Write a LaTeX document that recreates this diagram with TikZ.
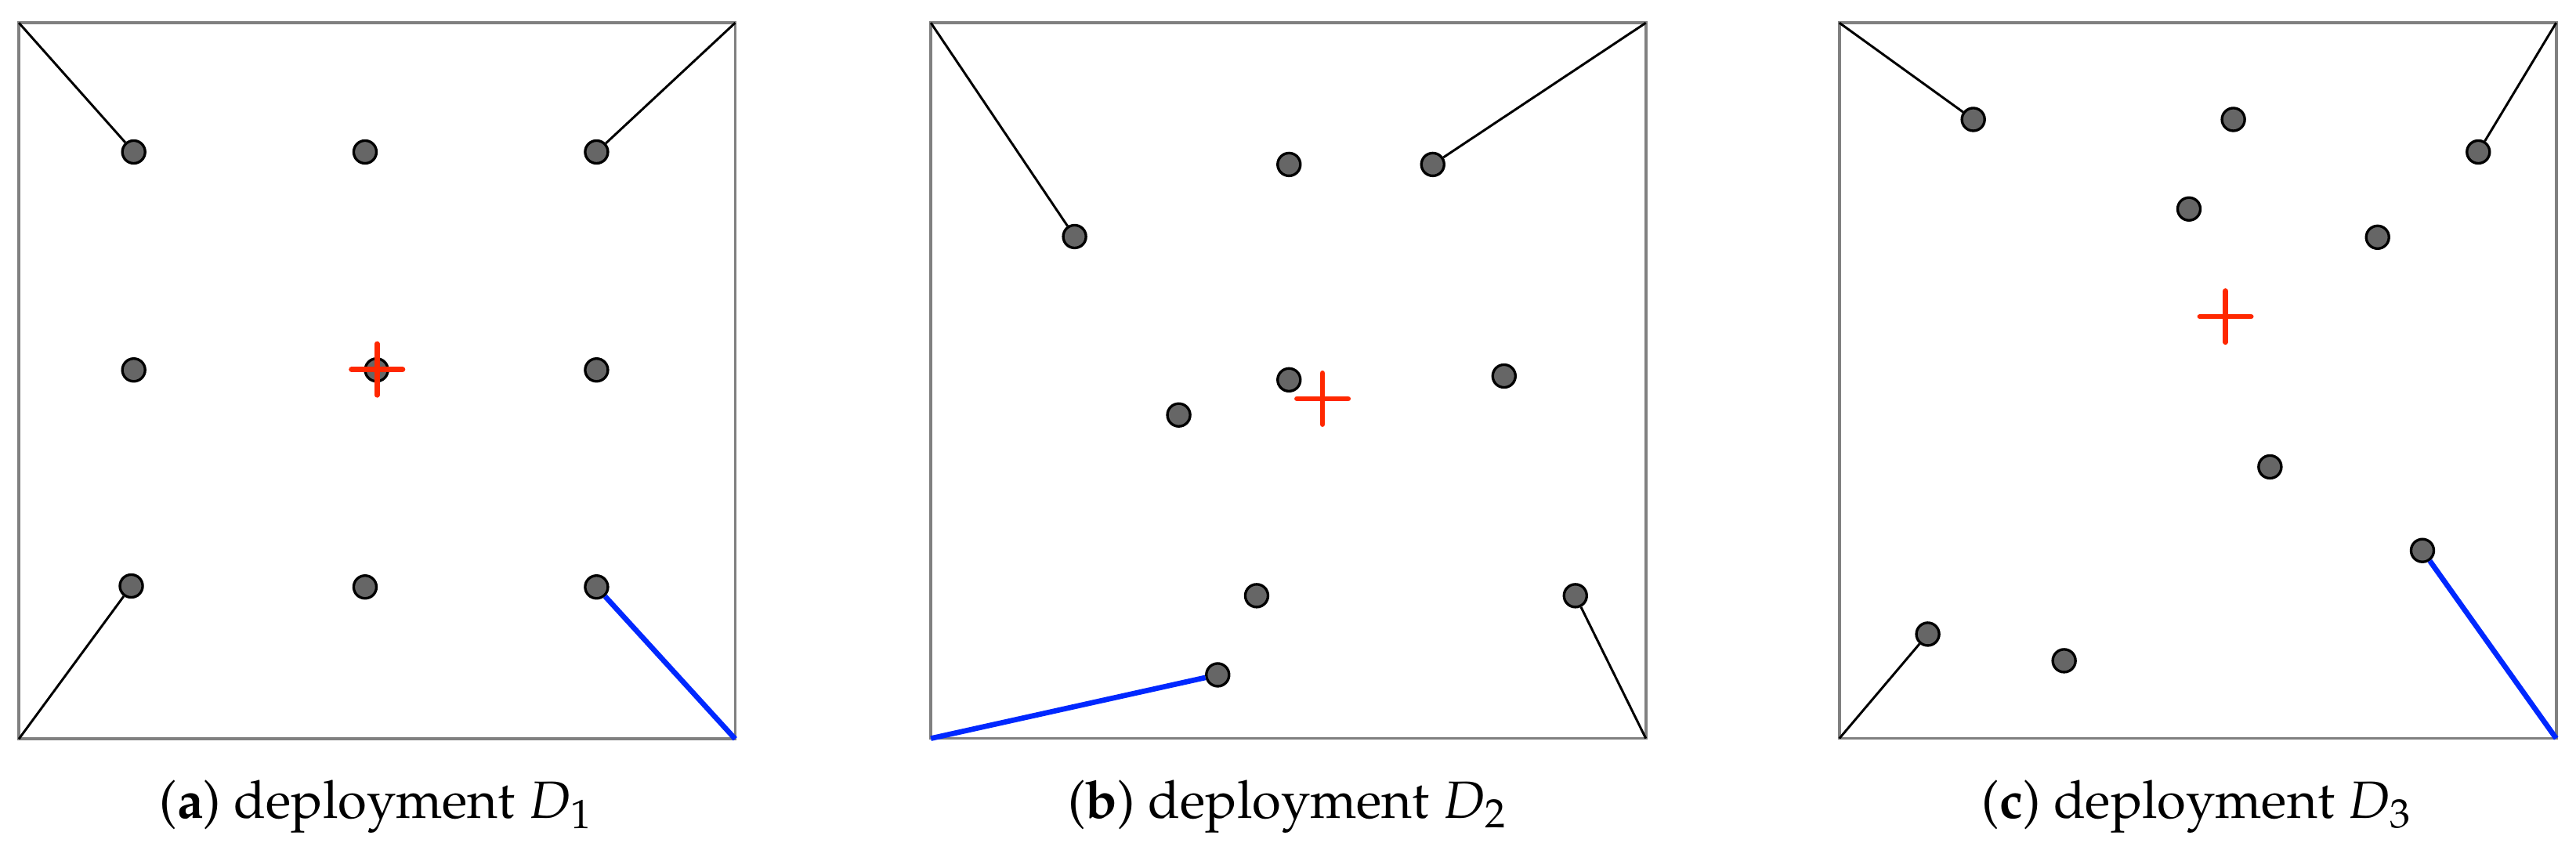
\documentclass[tikz,border=0pt]{standalone}
\usepackage[T1]{fontenc}
\usepackage{mathpazo}
\usetikzlibrary{shapes.misc}

\definecolor{dotgray}{RGB}{102,102,102}
\definecolor{framegray}{RGB}{128,128,128}
\definecolor{linkblue}{RGB}{0,40,255}
\definecolor{sinkred}{RGB}{255,40,0}

\begin{document}
\begin{tikzpicture}[x=0.2815pt, y=-0.2815pt,
                sensor/.style = {circle, draw=black, line width=0.45pt, fill=dotgray, minimum size=3.9pt, inner sep=0pt},
                sink/.style = {cross out, rotate=45, draw=sinkred, line width=0.9pt, line cap=round, minimum size=5.3pt, inner sep=0pt},
                region/.style = {draw=framegray, line width=0.5pt},
                link/.style = {black, line width=0.4pt},
                farlink/.style = {linkblue, line width=0.9pt},
                subcap/.style = {anchor=base, inner sep=0pt, font=\fontsize{9}{11}\selectfont}]

                \useasboundingbox (0,0) rectangle (1568,517);

                % Deployment 1

                \draw[region] (11.5,13.9) rectangle (447.5,449.8);
                \coordinate (a-nw) at (11.5,13.9);
                \coordinate (a-ne) at (447.5,13.9);
                \coordinate (a-sw) at (11.5,449.8);
                \coordinate (a-se) at (447.5,449.8);

                \node[sensor] (a1) at (81.4,92.5)  {};
                \node[sensor] (a2) at (222.2,92.5) {};
                \node[sensor] (a3) at (363.1,92.5) {};
                \node[sensor] (a4) at (81.4,225.2) {};
                \node[sensor] (a5) at (229.2,225.2) {};
                \node[sensor] (a6) at (363.1,225.2) {};
                \node[sensor] (a7) at (79.9,356.7) {};
                \node[sensor] (a8) at (222.2,357.3) {};
                \node[sensor] (a9) at (363.1,357.3) {};
                \node[sink]   (a-sink) at (229.5,224.9) {};

                \draw[link] (a-nw) -- (a1);
                \draw[link] (a-ne) -- (a3);
                \draw[link] (a-sw) -- (a7);
                \draw[farlink] (a-se) -- (a9);

                \node[subcap] (a-cap) at (229.5,498) {(\textbf{a}) deployment $D_1$};

                % Deployment 2

                \draw[region] (566.6,13.9) rectangle (1001.8,449.5);
                \coordinate (b-nw) at (566.6,13.9);
                \coordinate (b-ne) at (1001.8,13.9);
                \coordinate (b-sw) at (566.6,449.5);
                \coordinate (b-se) at (1001.8,449.5);

                \node[sensor] (b1) at (654.1,144.0) {};
                \node[sensor] (b2) at (784.6,100.1) {};
                \node[sensor] (b3) at (872.1,100.1) {};
                \node[sensor] (b4) at (717.5,252.6) {};
                \node[sensor] (b5) at (784.6,231.2) {};
                \node[sensor] (b6) at (915.5,228.9) {};
                \node[sensor] (b7) at (764.9,362.6) {};
                \node[sensor] (b8) at (958.9,362.6) {};
                \node[sensor] (b9) at (741.2,410.8) {};
                \node[sink]   (b-sink) at (805.0,242.7) {};

                \draw[link] (b-nw) -- (b1);
                \draw[link] (b-ne) -- (b3);
                \draw[link] (b-se) -- (b8);
                \draw[farlink] (b-sw) -- (b9);

                \node[subcap] (b-cap) at (784.2,498) {(\textbf{b}) deployment $D_2$};

                % Deployment 3

                \draw[region] (1119.6,13.9) rectangle (1555.9,449.5);
                \coordinate (c-nw) at (1119.6,13.9);
                \coordinate (c-ne) at (1555.9,13.9);
                \coordinate (c-sw) at (1119.6,449.5);
                \coordinate (c-se) at (1555.9,449.5);

                \node[sensor] (c1) at (1201.1,72.7)  {};
                \node[sensor] (c2) at (1359.4,72.7)  {};
                \node[sensor] (c3) at (1508.5,92.5)  {};
                \node[sensor] (c4) at (1332.4,127.2) {};
                \node[sensor] (c5) at (1447.2,144.4) {};
                \node[sensor] (c6) at (1381.7,284.2) {};
                \node[sensor] (c7) at (1474.5,335.1) {};
                \node[sensor] (c8) at (1173.4,386.0) {};
                \node[sensor] (c9) at (1256.4,402.2) {};
                \node[sink]   (c-sink) at (1354.6,192.7) {};

                \draw[link] (c-nw) -- (c1);
                \draw[link] (c-ne) -- (c3);
                \draw[link] (c-sw) -- (c8);
                \draw[farlink] (c-se) -- (c7);

                \node[subcap] (c-cap) at (1337.8,498) {(\textbf{c}) deployment $D_3$};
            \end{tikzpicture}
\end{document}
